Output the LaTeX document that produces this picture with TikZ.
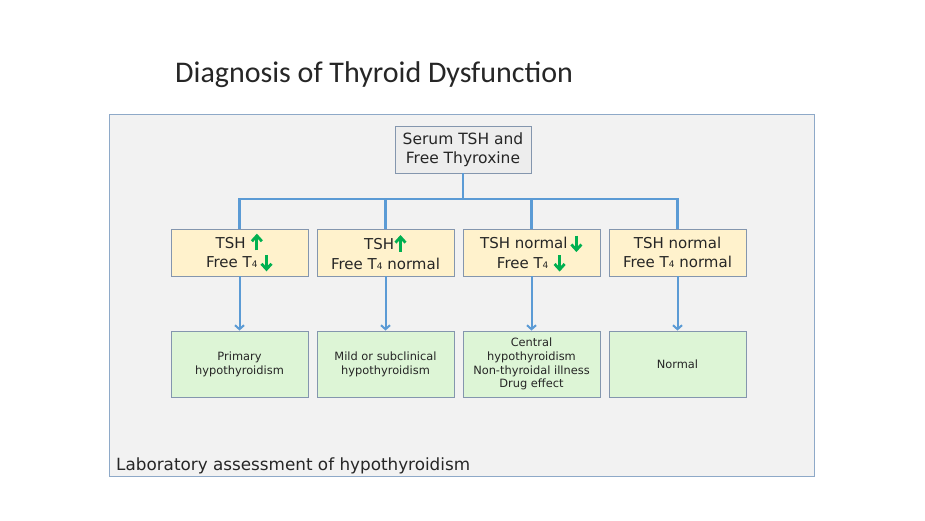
\documentclass[tikz,border=0pt]{standalone}
\usepackage{fontspec}
\setmainfont{DejaVu Sans}
\newfontfamily\titlefont{Carlito}
\usetikzlibrary{arrows.meta}
\definecolor{panelfill}{HTML}{F2F2F2}
\definecolor{panelline}{HTML}{8EA9C8}
\definecolor{boxline}{HTML}{8496AE}
\definecolor{topfill}{HTML}{EDEDED}
\definecolor{midfill}{HTML}{FFF2CC}
\definecolor{lowfill}{HTML}{DDF5D6}
\definecolor{conn}{HTML}{5B9BD5}
\definecolor{arrgreen}{HTML}{00B050}
\definecolor{txt}{HTML}{262626}
\newcommand{\upar}{\tikz[x=1pt,y=1pt,baseline=0pt]{\draw[arrgreen,line width=2.8pt,line cap=butt] (0,-2)--(0,12); \draw[arrgreen,line width=2.8pt,line join=miter] (-5,7)--(0,12.5)--(5,7);}}
\newcommand{\dnar}{\tikz[x=1pt,y=1pt,baseline=0pt]{\draw[arrgreen,line width=2.8pt,line cap=butt] (0,13)--(0,-1); \draw[arrgreen,line width=2.8pt,line join=miter] (-5,4)--(0,-1.5)--(5,4);}}
\newcommand{\Tfour}{T{\fontsize{9}{9}\selectfont 4}}
\tikzset{
  topbox/.style={draw=boxline, fill=topfill, line width=0.9pt, minimum width=136pt, minimum height=47pt, inner sep=0pt, align=center, text=txt, font=\fontsize{15.5}{19.5}\selectfont},
  midbox/.style={draw=boxline, fill=midfill, line width=0.9pt, minimum width=137pt, minimum height=47pt, inner sep=0pt, align=center, text=txt, font=\fontsize{15}{19.5}\selectfont},
  lowbox/.style={draw=boxline, fill=lowfill, line width=0.9pt, minimum width=137pt, minimum height=66pt, inner sep=0pt, align=center, text=txt, font=\fontsize{11.4}{13.8}\selectfont},
  conline/.style={draw=conn, line width=2.2pt},
  conarrow/.style={draw=conn, line width=2pt, -{Straight Barb[length=4pt,width=9pt,line width=2pt]}}
}
\begin{document}
\begin{tikzpicture}[x=1pt,y=-1pt]
\useasboundingbox (0,0) rectangle (925,520);
\fill[white] (0,0) rectangle (925,520);
% title
\node[anchor=base west, inner sep=0pt, text=txt, font=\titlefont\fontsize{30}{30}\selectfont] (title) at (175,82) {Diagnosis of Thyroid Dysfunction};
% panel
\node[draw=panelline, fill=panelfill, line width=0.9pt, minimum width=705pt, minimum height=362pt, inner sep=0pt, anchor=north west] (panel) at (109,114) {};
\node[anchor=base west, inner sep=0pt, text=txt, font=\fontsize{16.8}{20}\selectfont] (caption) at (116,470) {Laboratory assessment of hypothyroidism};
% top
\node[topbox] (top) at (463,149.5) {Serum TSH and\\Free Thyroxine};
% middle
\node[midbox] (m1) at (239.5,252.5) {TSH \upar\\Free \Tfour\,\dnar};
\node[midbox] (m2) at (385.5,252.5) {TSH\upar\\Free \Tfour\ normal};
\node[midbox] (m3) at (531.5,252.5) {TSH normal\,\dnar\\Free \Tfour\ \dnar};
\node[midbox] (m4) at (677.5,252.5) {TSH normal\\Free \Tfour\ normal};
% lower
\node[lowbox] (l1) at (239.5,364) {Primary\\hypothyroidism};
\node[lowbox] (l2) at (385.5,364) {Mild or subclinical\\hypothyroidism};
\node[lowbox] (l3) at (531.5,364) {Central\\hypothyroidism\\Non-thyroidal illness\\Drug effect};
\node[lowbox] (l4) at (677.5,364) {Normal};
% connectors
\coordinate (bus) at (463,199);
\draw[conline] (top.south) -- (bus);
\draw[conline] (m1.north) |- (bus);
\draw[conline] (m4.north) |- (bus);
\draw[conline] (m2.north) -- (m2.north |- bus);
\draw[conline] (m3.north) -- (m3.north |- bus);
\draw[conarrow] (m1.south) -- (l1.north);
\draw[conarrow] (m2.south) -- (l2.north);
\draw[conarrow] (m3.south) -- (l3.north);
\draw[conarrow] (m4.south) -- (l4.north);
\end{tikzpicture}
\end{document}
